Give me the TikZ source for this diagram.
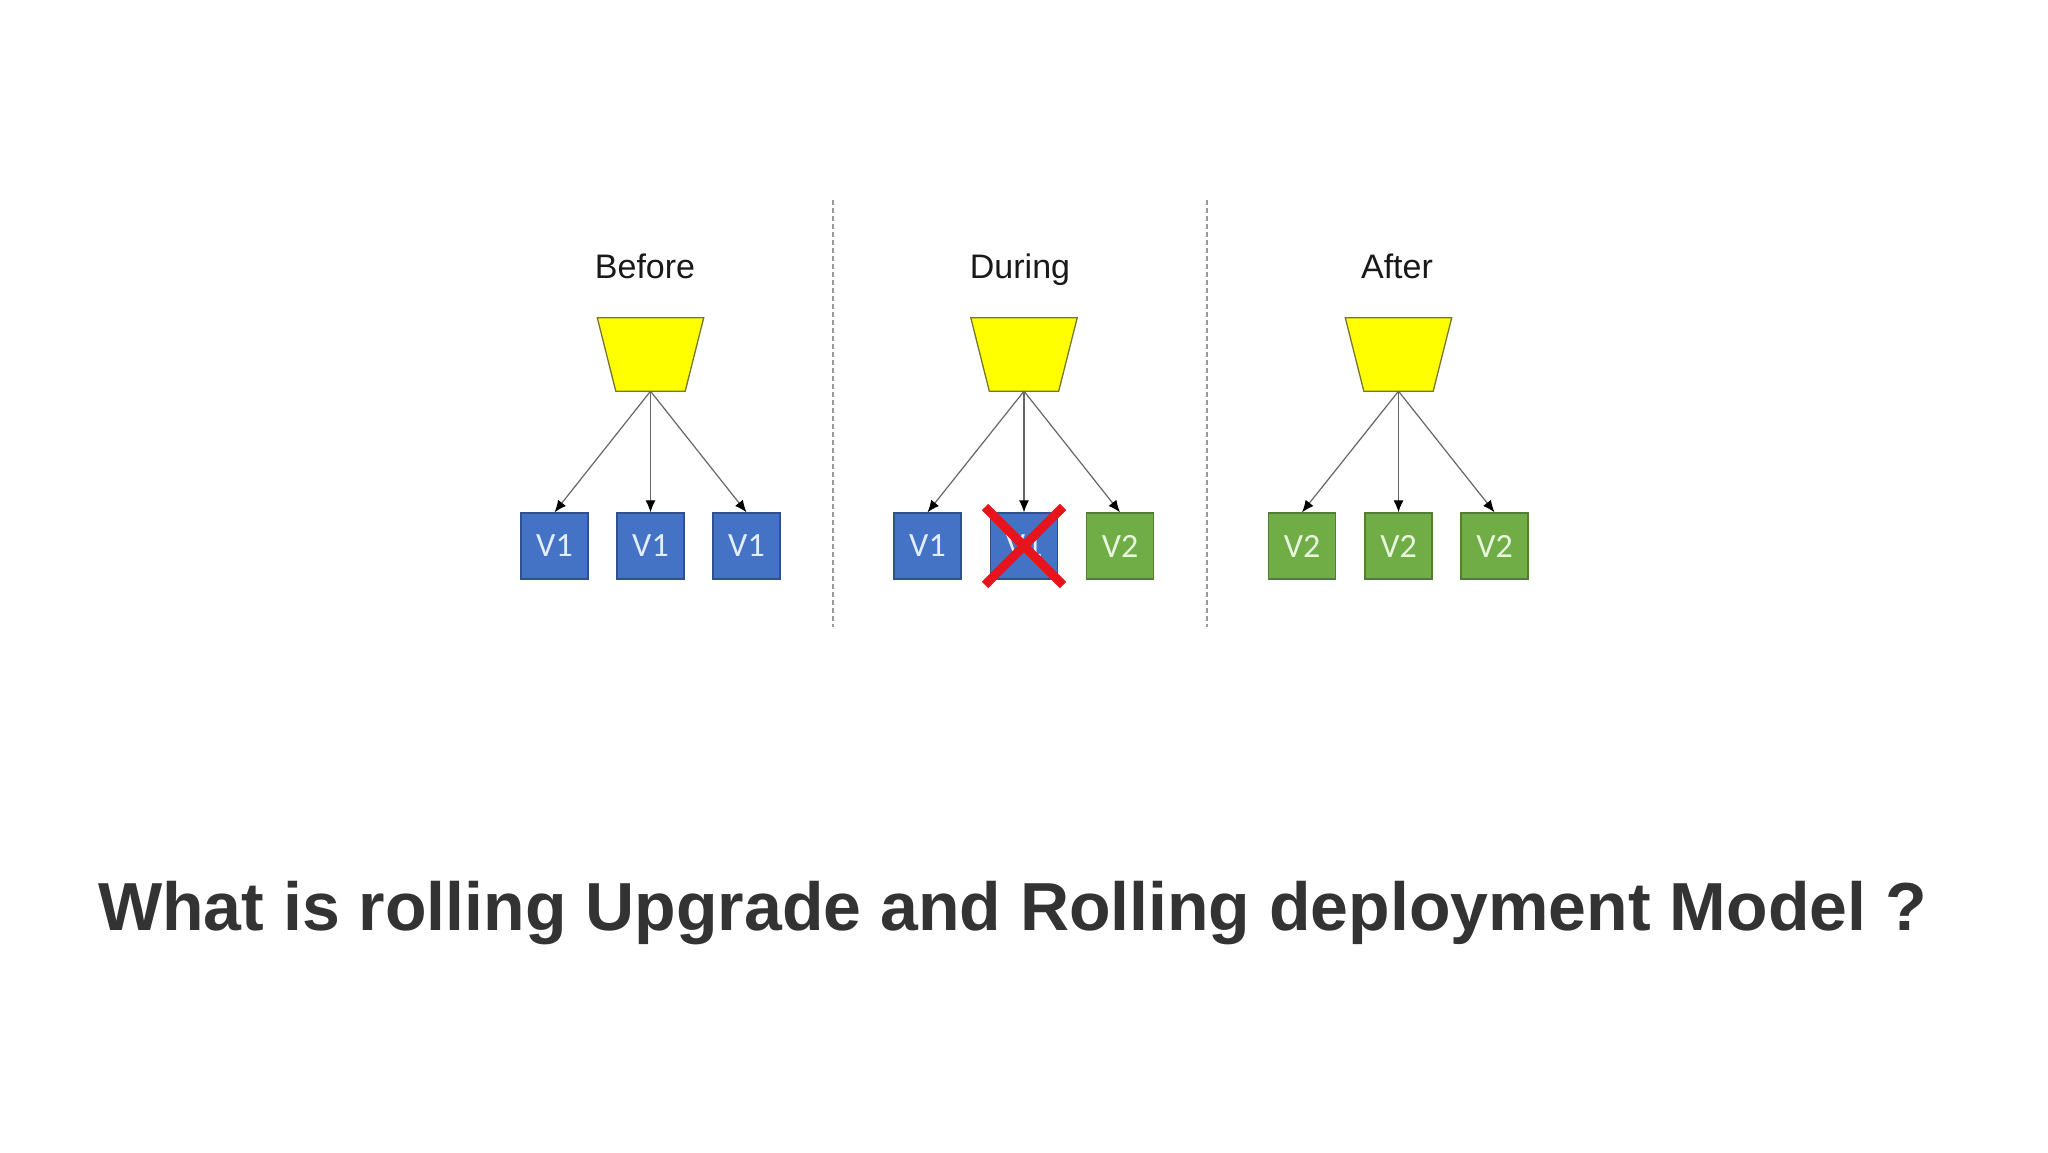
\documentclass[tikz,border=0pt]{standalone}
\usepackage{fontspec}
\setmainfont{Liberation Sans}
\newfontfamily\boxfont{Carlito}
\usetikzlibrary{arrows.meta}
\definecolor{boxblue}{HTML}{4472C4}
\definecolor{boxblueB}{HTML}{2F528F}
\definecolor{boxgreen}{HTML}{70AD47}
\definecolor{boxgreenB}{HTML}{507E32}
\definecolor{txtblue}{HTML}{E2EEFF}
\definecolor{txtgreen}{HTML}{E6F7DC}
\definecolor{lbyellow}{HTML}{FFFF00}
\definecolor{lbborder}{HTML}{77772E}
\definecolor{titlegray}{HTML}{333333}
\definecolor{crossred}{HTML}{E8141B}
\tikzset{
  vbox/.style={draw=boxblueB, fill=boxblue, line width=1.3pt, minimum width=67pt, minimum height=66pt, inner sep=0pt, text=txtblue, font=\boxfont\fontsize{34}{34}\selectfont},
  gbox/.style={draw=boxgreenB, fill=boxgreen, line width=1.3pt, minimum width=67pt, minimum height=66pt, inner sep=0pt, text=txtgreen, font=\boxfont\fontsize{34}{34}\selectfont},
  lbframe/.style={minimum width=106pt, minimum height=73pt, inner sep=0pt},
  funnel/.style={draw=lbborder, fill=lbyellow, line width=1.3pt, line join=miter},
  conn/.style={draw=black!60, line width=1.2pt, -{Latex[length=12pt,width=10pt,black]}},
  heading/.style={font=\fontsize{34}{34}\selectfont, text=black!90, anchor=base},
  divider/.style={draw=black!40, line width=1.3pt, dash pattern=on 5pt off 3pt},
  xline/.style={draw=crossred, line width=9pt},
}
\begin{document}
\begin{tikzpicture}[x=1pt,y=-1pt]
\useasboundingbox[fill=white] (0,0) rectangle (2048,1152);

% dividers
\coordinate (d1t) at (833,200); \coordinate (d1b) at (833,627);
\coordinate (d2t) at (1207,200); \coordinate (d2b) at (1207,627);
\draw[divider] (d1t) -- (d1b);
\draw[divider] (d2t) -- (d2b);

% headings
\node[heading] (hb) at (645,278) {Before};
\node[heading] (hd) at (1020,278) {During};
\node[heading] (ha) at (1397,278) {After};

% load balancers
\foreach \nm/\cx in {lbA/650.5, lbB/1024, lbC/1398.5}{
  \node[lbframe] (\nm) at (\cx,354.5) {};
  \draw[funnel] (\nm.north west) -- (\nm.north east) -- ([xshift=-18.5pt]\nm.south east) -- ([xshift=18.5pt]\nm.south west) -- cycle;
}

% boxes
\node[vbox] (a1) at (554.5,546) {V1};
\node[vbox] (a2) at (650.5,546) {V1};
\node[vbox] (a3) at (746.5,546) {V1};
\node[vbox] (b1) at (927.5,546) {V1};
\node[vbox] (b2) at (1024,546) {V1};
\node[gbox] (b3) at (1120,546) {V2};
\node[gbox] (c1) at (1302,546) {V2};
\node[gbox] (c2) at (1398.5,546) {V2};
\node[gbox] (c3) at (1494.5,546) {V2};

% connectors
\foreach \s/\t in {lbA/a1, lbA/a2, lbA/a3, lbB/b1, lbB/b2, lbB/b3, lbC/c1, lbC/c2, lbC/c3}{
  \draw[conn] (\s.south) -- (\t.north);
}

% red cross
\draw[xline] ([shift={(-39pt,-39pt)}]b2.center) -- ([shift={(39pt,39pt)}]b2.center);
\draw[xline] ([shift={(39pt,-39pt)}]b2.center) -- ([shift={(-39pt,39pt)}]b2.center);

% title
\node[anchor=base west, font=\bfseries\fontsize{68}{68}\selectfont, text=titlegray, inner sep=0pt] (title) at (98,930) {What is rolling Upgrade and Rolling deployment Model ?};
\end{tikzpicture}
\end{document}
